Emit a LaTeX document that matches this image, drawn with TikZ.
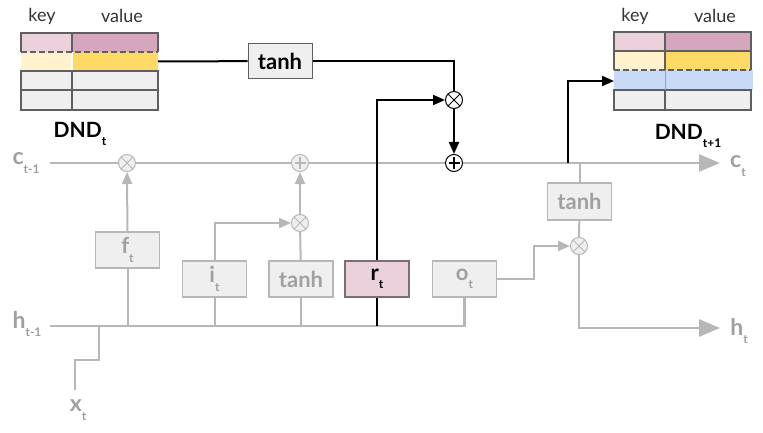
\documentclass[tikz,border=0pt]{standalone}
\usepackage{fontspec}
\setmainfont{Lato}
\usetikzlibrary{arrows.meta}
\definecolor{myGrey}{RGB}{183,183,183}
\definecolor{myText}{RGB}{160,160,160}
\definecolor{myBox}{RGB}{239,239,239}
\definecolor{myCell}{RGB}{95,95,95}
\definecolor{keyPink}{RGB}{234,209,220}
\definecolor{valPink}{RGB}{213,166,189}
\definecolor{keyYellow}{RGB}{255,242,204}
\definecolor{valYellow}{RGB}{255,217,102}
\definecolor{myBlue}{RGB}{201,218,248}
\definecolor{rBorder}{RGB}{125,110,118}
\newcommand{\gsub}[2]{#1\raisebox{-0.75ex}{\fontsize{12}{12}\selectfont#2}}

\tikzset{
	gate/.style={draw=myGrey,fill=myBox,line width=1.2pt,minimum width=64pt,minimum height=36pt,inner sep=0pt,text=myText,font=\bfseries\fontsize{22}{24}\selectfont},
	lbl/.style={text=myText,font=\bfseries\fontsize{23}{25}\selectfont,inner sep=0pt},
	op/.style={circle,draw=myGrey,fill=myBox,line width=1pt,minimum size=17pt,inner sep=0pt},
	bop/.style={op,draw=black,fill=white},
	mul/.style={path picture={\draw[line width=0.9pt,#1] (path picture bounding box.north west) -- (path picture bounding box.south east) (path picture bounding box.north east) -- (path picture bounding box.south west);}},
	add/.style={path picture={\draw[line width=1.1pt,#1] ([yshift=-3pt]path picture bounding box.north) -- ([yshift=3pt]path picture bounding box.south) ([xshift=3pt]path picture bounding box.west) -- ([xshift=-3pt]path picture bounding box.east);}},
	gline/.style={myGrey,line width=2.6pt},
	sline/.style={myGrey,line width=2pt},
	bline/.style={black,line width=2pt},
	smallTip/.style={-{Triangle[length=12pt,width=10pt]}},
	bigTip/.style={-{Triangle[length=21pt,width=17pt]}},
	cellLine/.style={myCell,line width=1.3pt},
	head/.style={font=\fontsize{18}{20}\selectfont,text=black!80}
}

\begin{document}
\begin{tikzpicture}[x=1pt,y=-1pt]
	\useasboundingbox (0,0) rectangle (763,433);

	\begin{scope}[shift={(21,33)}]
		\fill[keyPink] (0,0) rectangle (51,19);
		\fill[valPink] (51,0) rectangle (137,19);
		\fill[keyYellow] (0,19) rectangle (50,38);
		\fill[valYellow] (52,19) rectangle (137,38);
		\fill[myBox] (0,38) rectangle (137,77);
		\draw[cellLine] (0,19) -- (0,0) -- (137,0) -- (137,19) (51,0) -- (51,19);
		\draw[cellLine] (0,38) rectangle (137,77) (0,57) -- (137,57) (51,38) -- (51,77);
		\draw[cellLine,dashed,dash pattern=on 6pt off 3pt] (0,19) -- (137,19);
		\coordinate (dndOut) at (137,28.5);
	\end{scope}
	\node[head] (keyA) at (42,16) {key};
	\node[head] (valA) at (122,16) {value};
	\node[font=\bfseries\fontsize{21}{23}\selectfont] (dndA) at (80,134) {\gsub{DND}{t}};

	\begin{scope}[shift={(614,32)}]
		\fill[keyPink] (0,0) rectangle (51,19);
		\fill[valPink] (51,0) rectangle (137,19);
		\fill[keyYellow] (0,19) rectangle (51,38);
		\fill[valYellow] (51,19) rectangle (137,38);
		\fill[myBlue] (0,38) rectangle (139,58);
		\fill[myBox] (0,58) rectangle (137,78);
		\draw[cellLine] (0,38) -- (0,0) -- (137,0) -- (137,38) (0,19) -- (137,19) (51,0) -- (51,38);
		\draw[cellLine] (0,58) rectangle (137,78) (51,58) -- (51,78);
		\draw[myCell!60,line width=0.8pt] (51,38) -- (51,58);
		\draw[cellLine,dashed,dash pattern=on 6pt off 3pt] (0,38) -- (137,38);
		\coordinate (dndIn) at (0,49);
	\end{scope}
	\node[head] (keyB) at (635,16) {key};
	\node[head] (valB) at (715,16) {value};
	\node[font=\bfseries\fontsize{21}{23}\selectfont] (dndB) at (688,136) {\gsub{DND}{t+1}};

	\node[lbl] (cPrev) at (26,163) {\gsub{c}{t-1}};
	\node[lbl] (hPrev) at (27,324) {\gsub{h}{t-1}};
	\node[lbl] (xIn) at (78,410) {\gsub{x}{t}};
	\node[lbl] (cOut) at (738,166) {\gsub{c}{t}};
	\node[lbl] (hOut) at (739,331) {\gsub{h}{t}};

	\coordinate (cStart) at (50,163);
	\coordinate (cEnd) at (720,163);
	\coordinate (hStart) at (50,326);
	\coordinate (hEnd) at (720,328);
	\coordinate (xFoot) at (75,390);
	\coordinate (xBend) at (99,360);
	\coordinate (cTap) at (568,163);

	\node[gate] (fGate) at (127.5,250) {\gsub{f}{t}};
	\node[gate] (iGate) at (214.5,279) {\gsub{i}{t}};
	\node[gate] (tanhIn) at (301,279) {tanh};
	\node[gate,fill=keyPink,draw=rBorder,text=black] (rGate) at (377,279) {\gsub{r}{t}};
	\node[gate] (oGate) at (464.5,279) {\gsub{o}{t}};
	\node[gate,minimum height=37pt] (tanhOut) at (579.5,201.5) {tanh};
	\node[gate,draw=myCell,line width=1pt,text=black,minimum height=35pt] (tanhMem) at (280,61) {tanh};

	\node[op,mul=myGrey] (mulF) at (127,163) {};
	\node[op,add=myGrey] (addC) at (300,163) {};
	\node[op,mul=myGrey] (mulI) at (300,223) {};
	\node[op,mul=myGrey] (mulO) at (579,246) {};
	\node[bop,mul=black] (mulR) at (454,100) {};
	\node[bop,add=black] (addR) at (454,163) {};

	\draw[gline] (cStart) -- (mulF) -- (addC) -- (addR);
	\draw[gline,bigTip] (addR) -- (cEnd);
	\draw[gline] (hStart) -| (oGate.south);
	\draw[gline,bigTip] (mulO) |- (hEnd);
	\draw[gline] (xFoot) |- (xBend) -- (xBend |- hStart);

	\draw[sline,smallTip] (fGate) -- (mulF);
	\draw[sline] (fGate.south) -- (fGate.south |- hStart);
	\draw[sline,smallTip] (iGate.north) |- (mulI);
	\draw[sline] (iGate.south) -- (iGate.south |- hStart);
	\draw[sline] (tanhIn) -- (mulI);
	\draw[sline,smallTip] (mulI) -- (addC);
	\draw[sline] (tanhIn.south) -- (tanhIn.south |- hStart);
	\draw[sline] (tanhOut.north |- cStart) -- (tanhOut);
	\draw[sline] (tanhOut) -- (mulO);
	\draw[sline,smallTip] (oGate.east) -- ++(37,0) |- (mulO);

	\draw[bline] (dndOut) -- (tanhMem);
	\draw[bline] (tanhMem) -| (mulR);
	\draw[bline] (rGate.south |- hStart) -- (rGate.south);
	\draw[bline,smallTip] (rGate.north) |- (mulR);
	\draw[bline,smallTip] (mulR) -- (addR);
	\draw[bline,smallTip] (cTap) |- (dndIn);
\end{tikzpicture}
\end{document}
